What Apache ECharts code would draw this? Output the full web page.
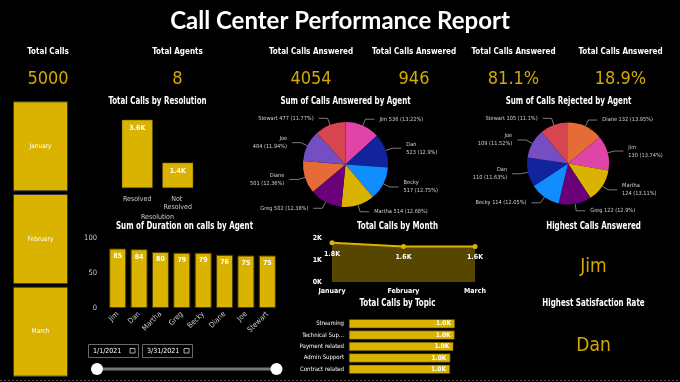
<!DOCTYPE html>
<html><head><meta charset="utf-8">
<script src="https://cdn.jsdelivr.net/npm/echarts@6/dist/echarts.min.js"></script>
<style>html,body{margin:0;padding:0;background:#000;}#c{width:680px;height:382px;}</style>
</head><body><div id="c"></div>
<script>
// ---- data ----
const reportTitle = 'Call Center Performance Report';
const kpiLabels = ['Total Calls','Total Agents','Total Calls Answered','Total Calls Answered','Total Calls Answered','Total Calls Answered'];
const kpiValues = ['5000','8','4054','946','81.1%','18.9%'];
const months = ['January','February','March'];
const monthTiles = [1, 1, 1];
const resolutionCats = ['Resolved','Not Resolved'];
const resolutionVals = [3646, 1354];
const durationAgents = ['Jim','Dan','Martha','Greg','Becky','Diane','Joe','Stewart'];
const durationVals = [85, 84, 80, 79, 79, 76, 75, 75];
const monthlyCalls = [1780, 1610, 1610];
const topics = ['Streaming','Technical Support','Payment related','Admin Support','Contract related'];
const topicVals = [1022, 1019, 1007, 978, 974];
const answeredAgents = ['Jim','Dan','Becky','Martha','Greg','Diane','Joe','Stewart'];
const answeredVals = [536, 523, 517, 514, 502, 501, 484, 477];
const rejectedAgents = ['Diane','Jim','Martha','Greg','Becky','Dan','Joe','Stewart'];
const rejectedVals = [132, 130, 124, 122, 114, 110, 109, 105];
const highestCallsAgent = 'Jim';
const highestSatisfactionAgent = 'Dan';
const dateFrom = '1/1/2021';
const dateTo = '3/31/2021';

// ---- styles ----
const GOLD = '#D9B300';
const GOLD_TXT = '#D4AA00';
const agentColor = {Jim:'#E044A7', Dan:'#12239E', Becky:'#118DFF', Martha:'#D9B300',
  Greg:'#6B007B', Diane:'#E66C37', Joe:'#744EC2', Stewart:'#D64550'};
const COND = "'DejaVu Sans Condensed','DejaVu Sans',sans-serif";

const kpiX = [48, 177.5, 311, 414, 513.5, 620.5];

function txt(x, y, text, font, fill, sx) {
  return {type:'text', x:x, y:y, scaleX:sx || 1, silent:true,
    style:{text:text, font:font, fill:fill, align:'center', verticalAlign:'middle',
      textAlign:'center', textVerticalAlign:'middle'}};
}
const kfmt = v => (v/1000).toFixed(1) + 'K';

const graphics = [];
graphics.push(txt(340, 21, reportTitle, "bold 24px Lato", '#fff'));
kpiLabels.forEach((l,i)=>{
  graphics.push(txt(kpiX[i], 51.5, l, "bold 9px " + COND, '#fff', 0.89));
  graphics.push(txt(kpiX[i], 79, kpiValues[i], "18px " + COND, GOLD_TXT));
});
const titleFont = "bold 10px " + COND;
const TS = 0.79;
graphics.push(txt(157.5, 101.5, 'Total Calls by Resolution', titleFont, '#fff', TS));
graphics.push(txt(345.5, 101.5, 'Sum of Calls Answered by Agent', titleFont, '#fff', TS));
graphics.push(txt(568.5, 101.5, 'Sum of Calls Rejected by Agent', titleFont, '#fff', TS));
graphics.push(txt(184.5, 226, 'Sum of Duration on calls by Agent', titleFont, '#fff', TS));
graphics.push(txt(397.5, 226, 'Total Calls by Month', titleFont, '#fff', TS));
graphics.push(txt(593.5, 226, 'Highest Calls Answered', titleFont, '#fff', TS));
graphics.push(txt(397.5, 303.5, 'Total Calls by Topic', titleFont, '#fff', TS));
graphics.push(txt(593.5, 303.5, 'Highest Satisfaction Rate', titleFont, '#fff', TS));
graphics.push(txt(593.5, 267, highestCallsAgent, "19px " + COND, GOLD_TXT));
graphics.push(txt(593.5, 346.5, highestSatisfactionAgent, "19px " + COND, GOLD_TXT));
// date slicer
graphics.push({type:'rect', shape:{x:88.5, y:344.5, width:50, height:13}, style:{fill:'#000', stroke:'#6a6a6a', lineWidth:1}});
graphics.push({type:'rect', shape:{x:142.5, y:344.5, width:50, height:13}, style:{fill:'#000', stroke:'#6a6a6a', lineWidth:1}});
graphics.push({type:'text', x:93, y:351, style:{text:dateFrom, font:"7px " + COND, fill:'#fff', verticalAlign:'middle', textVerticalAlign:'middle'}});
graphics.push({type:'text', x:147, y:351, style:{text:dateTo, font:"7px " + COND, fill:'#fff', verticalAlign:'middle', textVerticalAlign:'middle'}});
graphics.push({type:'rect', shape:{x:130, y:348.5, width:5, height:4.5}, style:{fill:'#000', stroke:'#aaa', lineWidth:1}});
graphics.push({type:'rect', shape:{x:184, y:348.5, width:5, height:4.5}, style:{fill:'#000', stroke:'#aaa', lineWidth:1}});
graphics.push({type:'line', shape:{x1:97, y1:369, x2:276, y2:369}, style:{stroke:'#777', lineWidth:3}});
graphics.push({type:'circle', shape:{cx:97, cy:369, r:6}, style:{fill:'#fff'}});
graphics.push({type:'circle', shape:{cx:276.5, cy:369, r:6}, style:{fill:'#fff'}});
graphics.push({type:'line', shape:{x1:0, y1:380.5, x2:680, y2:380.5}, style:{stroke:'#555', lineWidth:1, lineDash:[2,2]}});

const wrapAnswered = new Set(['Joe','Diane','Becky','Dan']);
const wrapRejected = new Set(['Joe','Dan','Martha','Jim']);
function pieLabel(set) {
  return p => set.has(p.name) ? p.name + '\n' + p.value + ' (' + p.percent + '%)'
                              : p.name + ' ' + p.value + ' (' + p.percent + '%)';
}
function pieSeries(names, vals, center, r, set) {
  return {type:'pie', center:center, radius:r, startAngle:90, clockwise:true,
    avoidLabelOverlap:true, animation:false,
    data:names.map((n,i)=>({name:n, value:vals[i], itemStyle:{color:agentColor[n]}})),
    label:{show:true, position:'outside', formatter:pieLabel(set), color:'#d0d0d0',
      fontSize:5.6, fontFamily:COND, lineHeight:8},
    labelLine:{show:true, length:7, length2:9, lineStyle:{color:'#9a9a9a', width:0.8}},
    emphasis:{disabled:true}};
}

const option = {
  backgroundColor:'#000',
  animation:false,
  textStyle:{fontFamily:COND},
  grid:[
    {left:13, top:100, width:55, height:278},
    {left:117, top:115, width:81, height:73},
    {left:107, top:238, width:171, height:70},
    {left:332, top:238, width:143, height:44},
    {left:349, top:318, width:114, height:57}
  ],
  xAxis:[
    {gridIndex:0, type:'value', min:0, max:1, show:false},
    {gridIndex:1, type:'category', data:resolutionCats,
      axisLine:{show:false}, axisTick:{show:false},
      axisLabel:{color:'#ccc', fontSize:7, interval:0, width:34, overflow:'break', margin:7, lineHeight:8},
      name:'Resolution', nameLocation:'middle', nameGap:26, nameTextStyle:{color:'#ccc', fontSize:7}},
    {gridIndex:2, type:'category', data:durationAgents,
      axisLine:{show:false}, axisTick:{show:false},
      axisLabel:{color:'#ccc', fontSize:7.5, interval:0, rotate:45, margin:5}},
    {gridIndex:3, type:'category', data:months, boundaryGap:false,
      axisLine:{show:false}, axisTick:{show:false},
      axisLabel:{color:'#fff', fontSize:7, fontWeight:'bold', interval:0, margin:6}},
    {gridIndex:4, type:'value', min:0, max:1100, show:false}
  ],
  yAxis:[
    {gridIndex:0, type:'category', data:months, inverse:true, show:false},
    {gridIndex:1, type:'value', min:0, max:3900, show:false},
    {gridIndex:2, type:'value', min:0, max:100, interval:50,
      splitLine:{show:false}, axisLine:{show:false}, axisTick:{show:false},
      axisLabel:{color:'#ccc', fontSize:7.5, margin:10}},
    {gridIndex:3, type:'value', min:0, max:2000, interval:1000,
      splitLine:{show:false}, axisLine:{show:false}, axisTick:{show:false},
      axisLabel:{color:'#fff', fontSize:7, fontWeight:'bold', margin:10, formatter:v=>(v/1000)+'K'}},
    {gridIndex:4, type:'category', data:topics, inverse:true,
      axisLine:{show:false}, axisTick:{show:false},
      axisLabel:{color:'#fff', fontSize:6, margin:5, width:46, overflow:'truncate', ellipsis:'...'}}
  ],
  series:[
    {type:'bar', xAxisIndex:0, yAxisIndex:0, data:monthTiles, barWidth:90,
      itemStyle:{color:GOLD, borderColor:'#3a3a3a', borderWidth:1},
      label:{show:true, position:'inside', formatter:p=>p.name, color:'#fff', fontSize:6.5}},
    {type:'bar', xAxisIndex:1, yAxisIndex:1, data:resolutionVals, barWidth:31,
      itemStyle:{color:GOLD, borderColor:'#5a4a00', borderWidth:0.5},
      label:{show:true, position:'insideTop', distance:5, formatter:p=>kfmt(p.value), color:'#fff', fontWeight:'bold', fontSize:7}},
    {type:'bar', xAxisIndex:2, yAxisIndex:2, data:durationVals, barWidth:17,
      itemStyle:{color:GOLD, borderColor:'#4a3d00', borderWidth:1},
      label:{show:true, position:'insideTop', distance:4, color:'#fff', fontWeight:'bold', fontSize:7}},
    {type:'line', xAxisIndex:3, yAxisIndex:3, data:monthlyCalls, symbol:'circle', symbolSize:5,
      itemStyle:{color:GOLD}, lineStyle:{color:GOLD, width:2},
      areaStyle:{color:'#564600', opacity:1},
      label:{show:true, position:'bottom', distance:5, formatter:p=>kfmt(p.value), color:'#fff', fontWeight:'bold', fontSize:7}},
    {type:'bar', xAxisIndex:4, yAxisIndex:4, data:topicVals, barWidth:9,
      itemStyle:{color:GOLD, borderColor:'#4a3d00', borderWidth:0.5},
      label:{show:true, position:'insideRight', distance:4, formatter:p=>kfmt(p.value), color:'#fff', fontWeight:'bold', fontSize:6.5}},
    pieSeries(answeredAgents, answeredVals, [345.5,164.5], 42.5, wrapAnswered),
    pieSeries(rejectedAgents, rejectedVals, [568,163.5], 41, wrapRejected)
  ],
  graphic:{elements:graphics}
};
const chart = echarts.init(document.getElementById('c'), null, {renderer:'canvas'});
chart.setOption(option);
</script></body></html>
